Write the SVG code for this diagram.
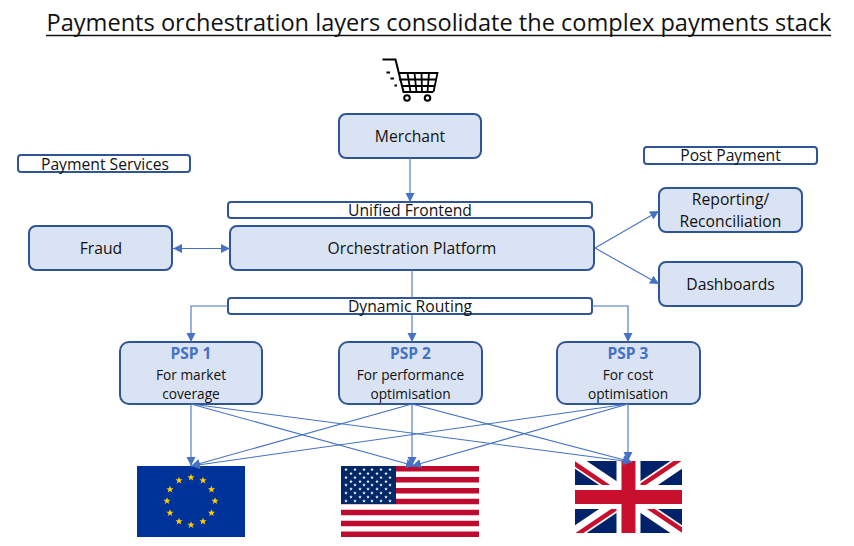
<svg xmlns="http://www.w3.org/2000/svg" width="854" height="546" viewBox="0 0 854 546">
<style>
text{font-family:"Open Sans","Noto Sans","Liberation Sans",sans-serif;fill:#111;text-anchor:middle}
.n{fill:#dae3f3;stroke:#2f5597;stroke-width:2}
.l{fill:#fff;stroke:#2f5597;stroke-width:2}
.t{font-size:15.700px}
.s{font-size:13.700px}
.h{font-size:15.500px;font-weight:700;fill:#4472c4}
.c{fill:none;stroke:#4472c4;stroke-width:1.100}
.a{marker-end:url(#ah)}
</style>
<defs>
<marker id="ah" markerUnits="userSpaceOnUse" markerWidth="10" markerHeight="10" refX="9" refY="4.500" orient="auto"><path d="M0 0L9 4.500L0 9Z" fill="#4472c4"/></marker>
<marker id="as" markerUnits="userSpaceOnUse" markerWidth="10" markerHeight="10" refX="0" refY="4.500" orient="auto"><path d="M9 0L0 4.500L9 9Z" fill="#4472c4"/></marker>
<polygon id="st" points="0,-3.800 1,-1.200 3.600,-1.200 1.500,0.500 2.300,3.100 0,1.500 -2.300,3.100 -1.500,0.500 -3.600,-1.200 -1,-1.200" fill="#ffcc00"/>
<polygon id="sw" points="0,-1.900 .5,-.6 1.800,-.6 .8,.3 1.100,1.600 0,.8 -1.100,1.600 -.8,.3 -1.800,-.6 -.5,-.6" fill="#fff"/>
<clipPath id="ukclip"><rect x="575" y="461" width="107" height="72"/></clipPath>
</defs>
<text x="439" y="31" style="font-size:23.500px" textLength="785" lengthAdjust="spacingAndGlyphs">Payments orchestration layers consolidate the complex payments stack</text>
<path d="M46 35.500H831" stroke="#111" stroke-width="1.300"/>
<g id="cart" fill="none" stroke="#000">
<path d="M382.500 59.500H395.500L403.500 92H433" stroke-width="2"/>
<path d="M398 73H437.500L433.500 92M399 79.500H436M401 86H435M407.500 73L410.500 92M414.500 73L416.500 92M421.500 73L422 92M429 73L427.500 92" stroke-width="1.800"/>
<path d="M386.500 72.500H390M390.500 78.500H394M394.500 85.500H397" stroke-width="2"/>
<circle cx="407" cy="98" r="2.800" stroke-width="2"/>
<circle cx="427.500" cy="98" r="2.800" stroke-width="2"/>
</g>
<g id="merchant"><rect class="n" x="339" y="114" width="142" height="44" rx="7"/><text class="t" x="410" y="142">Merchant</text></g>
<g id="payment-services"><rect class="l" x="18" y="155" width="172" height="17" rx="3"/><text class="t" x="105" y="170">Payment Services</text></g>
<g id="post-payment"><rect class="l" x="644" y="147" width="173" height="17" rx="3"/><text class="t" x="730.500" y="161">Post Payment</text></g>
<g id="unified-frontend"><rect class="l" x="228" y="202" width="364" height="16" rx="3"/><text class="t" x="410" y="216">Unified Frontend</text></g>
<g id="fraud"><rect class="n" x="29" y="226" width="143" height="44" rx="7"/><text class="t" x="101" y="254">Fraud</text></g>
<g id="orchestration"><rect class="n" x="230" y="226" width="364" height="44" rx="7"/><text class="t" x="412" y="254">Orchestration Platform</text></g>
<g id="reporting"><rect class="n" x="659" y="188" width="143" height="44" rx="7"/><text class="t" x="730.500" y="205">Reporting/</text><text class="t" x="730.500" y="227">Reconciliation</text></g>
<g id="dashboards"><rect class="n" x="659" y="262" width="143" height="44" rx="7"/><text class="t" x="730.500" y="290">Dashboards</text></g>
<g id="dynamic-routing"><rect class="l" x="228" y="298" width="364" height="16" rx="3"/><text class="t" x="410" y="312">Dynamic Routing</text></g>
<g id="psp1"><rect class="n" x="120" y="342" width="142" height="62" rx="9"/><text class="h" x="191" y="359">PSP 1</text><text class="s" x="191" y="380">For market</text><text class="s" x="191" y="399">coverage</text></g>
<g id="psp2"><rect class="n" x="339" y="342" width="143" height="62" rx="9"/><text class="h" x="410.500" y="359">PSP 2</text><text class="s" x="410.500" y="380">For performance</text><text class="s" x="410.500" y="399">optimisation</text></g>
<g id="psp3"><rect class="n" x="557" y="342" width="143" height="62" rx="9"/><text class="h" x="628" y="359">PSP 3</text><text class="s" x="628" y="380">For cost</text><text class="s" x="628" y="399">optimisation</text></g>
<g id="eu-flag">
<rect x="137" y="466" width="108" height="71" fill="#003399"/>
<use href="#st" x="191" y="477.500"/><use href="#st" x="203" y="480.500"/><use href="#st" x="211.500" y="489.500"/><use href="#st" x="215" y="501"/><use href="#st" x="211.500" y="513"/><use href="#st" x="203" y="521.500"/><use href="#st" x="191" y="525"/><use href="#st" x="179" y="521.500"/><use href="#st" x="170" y="513"/><use href="#st" x="167" y="501"/><use href="#st" x="170" y="489.500"/><use href="#st" x="179" y="480.500"/>
</g>
<g id="us-flag">
<rect x="341" y="466" width="138" height="71" fill="#fff"/>
<path fill="#bf0a30" d="M341 466h138v5.500H341zM341 477h138v5.500H341zM341 488h138v5.500H341zM341 498.800h138v5.500H341zM341 509.800h138v5.500H341zM341 520.700h138v5.500H341zM341 531.500h138v5.500H341z"/>
<rect x="341" y="466" width="55" height="38" fill="#002868"/>
<g id="us-stars">
<use href="#sw" x="346" y="469.500"/><use href="#sw" x="355" y="469.500"/><use href="#sw" x="364" y="469.500"/><use href="#sw" x="372" y="469.500"/><use href="#sw" x="381" y="469.500"/><use href="#sw" x="390" y="469.500"/>
<use href="#sw" x="351" y="473.500"/><use href="#sw" x="360" y="473.500"/><use href="#sw" x="368" y="473.500"/><use href="#sw" x="377" y="473.500"/><use href="#sw" x="386" y="473.500"/>
<use href="#sw" x="346" y="477.500"/><use href="#sw" x="355" y="477.500"/><use href="#sw" x="364" y="477.500"/><use href="#sw" x="372" y="477.500"/><use href="#sw" x="381" y="477.500"/><use href="#sw" x="390" y="477.500"/>
<use href="#sw" x="351" y="481.500"/><use href="#sw" x="360" y="481.500"/><use href="#sw" x="368" y="481.500"/><use href="#sw" x="377" y="481.500"/><use href="#sw" x="386" y="481.500"/>
<use href="#sw" x="346" y="485"/><use href="#sw" x="355" y="485"/><use href="#sw" x="364" y="485"/><use href="#sw" x="372" y="485"/><use href="#sw" x="381" y="485"/><use href="#sw" x="390" y="485"/>
<use href="#sw" x="351" y="489"/><use href="#sw" x="360" y="489"/><use href="#sw" x="368" y="489"/><use href="#sw" x="377" y="489"/><use href="#sw" x="386" y="489"/>
<use href="#sw" x="346" y="493"/><use href="#sw" x="355" y="493"/><use href="#sw" x="364" y="493"/><use href="#sw" x="372" y="493"/><use href="#sw" x="381" y="493"/><use href="#sw" x="390" y="493"/>
<use href="#sw" x="351" y="497"/><use href="#sw" x="360" y="497"/><use href="#sw" x="368" y="497"/><use href="#sw" x="377" y="497"/><use href="#sw" x="386" y="497"/>
<use href="#sw" x="346" y="501"/><use href="#sw" x="355" y="501"/><use href="#sw" x="364" y="501"/><use href="#sw" x="372" y="501"/><use href="#sw" x="381" y="501"/><use href="#sw" x="390" y="501"/>
</g>
</g>
<g id="uk-flag" clip-path="url(#ukclip)">
<rect x="575" y="461" width="107" height="72" fill="#012169"/>
<path stroke="#fff" stroke-width="13" d="M575 461L682 533M682 461L575 533"/>
<path stroke="#c8102e" stroke-width="4.500" d="M573.500 463L627 499M680.500 459L627 495M576.500 535L630 499M683.500 531L630 495"/>
<path stroke="#fff" stroke-width="24" d="M628.500 461V533M575 497H682"/>
<path stroke="#c8102e" stroke-width="14" d="M628.500 461V533M575 497H682"/>
</g>
<g id="connectors">
<path class="c a" d="M410 158V202"/>
<path class="c" d="M412 270V298"/>
<path class="c a" d="M228 306H191V342"/>
<path class="c a" d="M412 314V342"/>
<path class="c a" d="M592 306H628V342"/>
<path class="c" d="M173 248.500H230" marker-start="url(#as)" marker-end="url(#ah)"/>
<path class="c a" d="M595 248L659 211"/>
<path class="c a" d="M595 248L659 284"/>
<path class="c a" d="M191 404V466"/>
<path class="c a" d="M191 404L415 466"/>
<path class="c a" d="M191 404L632 462"/>
<path class="c a" d="M412 404L191 466"/>
<path class="c a" d="M412 404V466"/>
<path class="c a" d="M412 404L632 462"/>
<path class="c a" d="M628 404L191 466"/>
<path class="c a" d="M628 404L412 466"/>
<path class="c a" d="M628 404V461"/>
</g>
</svg>
